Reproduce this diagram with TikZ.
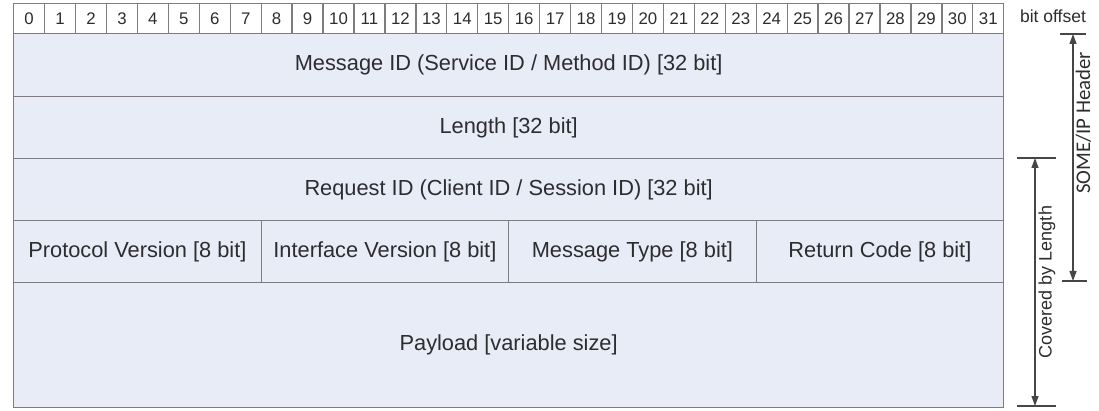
\documentclass[tikz,border=0pt]{standalone}
\usepackage{fontspec}
\setmainfont{Liberation Sans}
\newfontfamily\calibrifont{Carlito}
\usetikzlibrary{arrows.meta,positioning}

\definecolor{rowblue}{RGB}{231,236,246}
\definecolor{gridgray}{RGB}{125,125,125}
\definecolor{textgray}{RGB}{45,45,45}
\definecolor{arrowgray}{RGB}{70,70,70}

\tikzset{
  bitcell/.style={draw=gridgray, line width=1.3pt, fill=white, anchor=north west,
    minimum width=30.94pt, minimum height=30pt, inner sep=0pt, text=textgray,
    font=\fontsize{16.8}{16.8}\selectfont},
  wordrow/.style={draw=gridgray, line width=1.3pt, fill=rowblue, anchor=north west,
    minimum width=990pt, inner sep=0pt, text=textgray,
    font=\fontsize{21.8}{21.8}\selectfont},
  bytecell/.style={wordrow, minimum width=247.5pt, minimum height=62pt},
  spanarrow/.style={arrowgray, line width=1.2pt, {Triangle[length=10pt,width=7pt]}-{Triangle[length=10pt,width=7pt]}},
  spantick/.style={arrowgray, line width=1.2pt},
}

\begin{document}
\begin{tikzpicture}[x=1pt, y=-1pt]
    \def\cw{30.94}
    \useasboundingbox [fill=white] (0,0) rectangle (1099,411) ;

    \foreach \i in {0,...,31} {
      \node [bitcell] (b\i) at ({13+\cw*\i},3) {\i} ;
    }
    \node [text=textgray, font=\fontsize{17.5}{17.5}\selectfont] (offset) at (1053,16) {bit offset} ;

    \node [wordrow, minimum height=63pt] (msgid) at (13,33) {Message ID (Service ID / Method ID) [32 bit]} ;
    \node [wordrow, minimum height=62pt] (len) at (13,96) {Length [32 bit]} ;
    \node [wordrow, minimum height=62pt] (reqid) at (13,158) {Request ID (Client ID / Session ID) [32 bit]} ;
    \node [bytecell] (proto) at (13,220) {Protocol Version [8 bit]} ;
    \node [bytecell] (iface) at (260.5,220) {Interface Version [8 bit]} ;
    \node [bytecell] (mtype) at (508,220) {Message Type [8 bit]} ;
    \node [bytecell] (rcode) at (755.5,220) {Return Code [8 bit]} ;
    \node [wordrow, minimum height=125pt] (payload) at (13,282) {Payload [variable size]} ;

    \coordinate (hdtop) at (1073,34) ;
    \coordinate (hdbot) at (1073,281) ;
    \coordinate (lentop) at (1035,158) ;
    \coordinate (lenbot) at (1035,406) ;

    \draw [spantick] ([xshift=-13pt]hdtop) -- ([xshift=13pt]hdtop) ;
    \draw [spantick] ([xshift=-11pt]hdbot) -- ([xshift=14pt]hdbot) ;
    \draw [spantick] ([xshift=-18pt]lentop) -- ([xshift=21pt]lentop) ;
    \draw [spantick] ([xshift=-18pt]lenbot) -- ([xshift=21pt]lenbot) ;

    \draw [spanarrow] (hdtop) -- (hdbot)
      node [pos=0.36, rotate=90, anchor=north, inner sep=2pt, text=textgray,
        font=\calibrifont\fontsize{20.8}{20.8}\selectfont] (hdlabel) {SOME/IP Header} ;
    \draw [spanarrow] (lentop) -- (lenbot)
      node [midway, rotate=90, anchor=north, inner sep=3pt, text=textgray,
        font=\fontsize{18}{18}\selectfont] (lenlabel) {Covered by Length} ;

  \end{tikzpicture}
\end{document}
